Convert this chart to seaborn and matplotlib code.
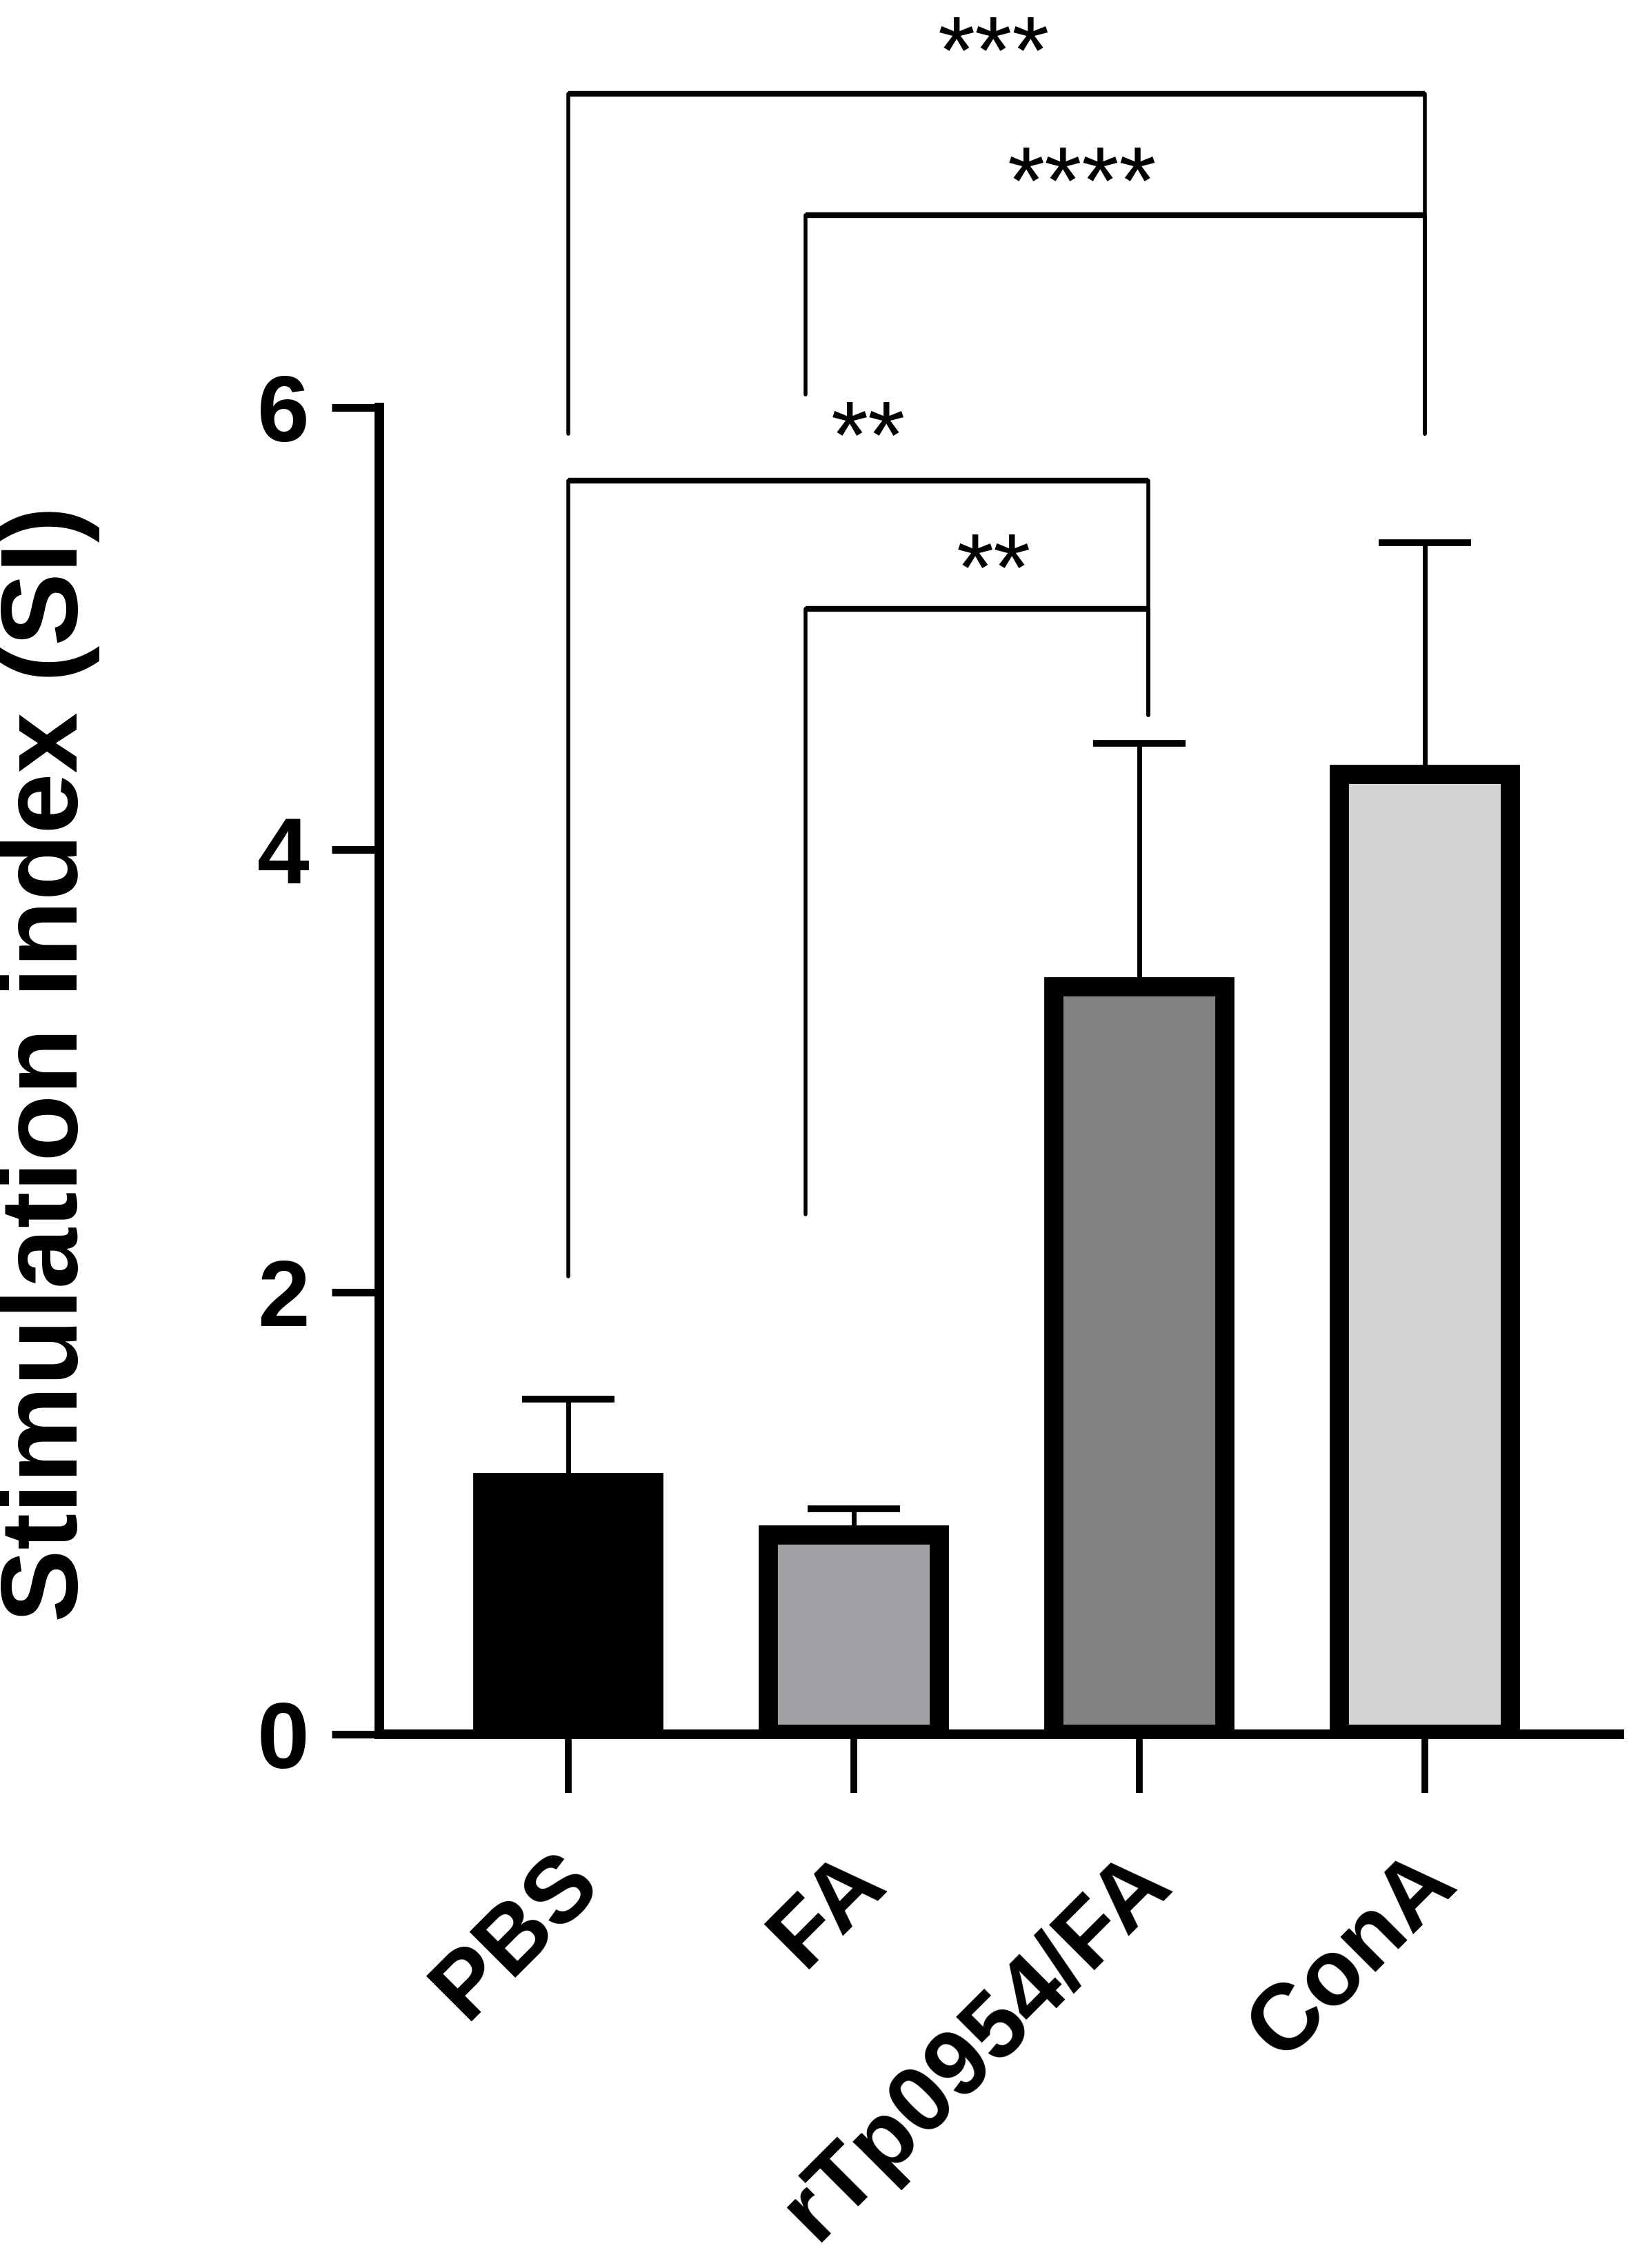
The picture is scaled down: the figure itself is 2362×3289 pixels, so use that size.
import numpy as np
import seaborn as sns
import matplotlib.pyplot as plt
from matplotlib.transforms import ScaledTranslation

# data
groups = ["PBS", "FA", "rTp0954/FA", "ConA"]
si_mean = [1.14, 0.90, 3.38, 4.34]
si_err = [0.375, 0.12, 1.10, 1.05]
bar_colors = ["#000000", "#a2a1a6", "#828282", "#d3d3d3"]

# significance brackets: left x, right x, bar height, left leg end, right leg end, label
brackets = [
    (0.0, 3.0, 7.42, 5.88, 5.88, "***"),
    (0.83, 3.0, 6.87, 6.06, 5.88, "****"),
    (0.0, 2.03, 5.67, 2.07, 4.61, "**"),
    (0.83, 2.03, 5.09, 2.35, 4.61, "**"),
]
# where the star labels sit (x, baseline y)
star_pos = [(1.49, 7.47), (1.80, 6.88), (1.05, 5.73), (1.49, 5.13)]

sns.set_style("ticks", {"axes.edgecolor": "black", "text.color": "black",
                        "xtick.color": "black", "ytick.color": "black"})
plt.rcParams["font.family"] = ["Liberation Sans", "DejaVu Sans"]

fig = plt.figure(figsize=(23.62, 32.89), dpi=100)
ax = fig.add_axes([0.2329, 0.2353, 0.7612, 0.7647])

sns.barplot(x=groups, y=si_mean, hue=groups, palette=bar_colors, legend=False,
            width=0.6, edgecolor="black", linewidth=20, saturation=1, ax=ax)

ax.errorbar(x=np.arange(len(groups)), y=si_mean,
            yerr=[np.zeros(len(groups)), si_err], fmt="none",
            ecolor="black", elinewidth=5, capsize=48, capthick=7, zorder=3)

for (x1, x2, y, b1, b2, lab), (tx, ty) in zip(brackets, star_pos):
    ax.plot([x1, x2], [y, y], color="black", lw=6, clip_on=False,
            solid_capstyle="butt")
    ax.plot([x1, x1], [b1, y], color="black", lw=4, clip_on=False)
    ax.plot([x2, x2], [b2, y], color="black", lw=4, clip_on=False)
    ax.text(tx, ty, lab, ha="center", va="baseline", fontsize=100,
            color="black", clip_on=False)

ax.set_xlim(-0.662, 3.681)
ax.set_ylim(0, 7.843)
ax.set_yticks([0, 2, 4, 6])
ax.set_yticklabels(["0", "2", "4", "6"])

sns.despine(ax=ax)
ax.spines["left"].set_bounds(0, 6)
ax.spines["left"].set_linewidth(10)
ax.spines["bottom"].set_linewidth(10)

ax.tick_params(axis="y", length=50, width=8, pad=23, labelsize=98)
ax.tick_params(axis="x", length=61, width=7, pad=39, labelsize=98)
for t in ax.get_yticklabels() + ax.get_xticklabels():
    t.set_fontweight("bold")
plt.setp(ax.get_xticklabels(), rotation=45, ha="right", va="top",
         rotation_mode="anchor")
# nudge the slanted labels a little left/down like the original
shift = ScaledTranslation(-0.2, -0.1, fig.dpi_scale_trans)
for t in ax.get_xticklabels():
    t.set_transform(t.get_transform() + shift)

ax.set_xlabel("")
ax.set_ylabel("")
fig.text(0.0474, 0.5309, "Stimulation index (SI)", rotation=90,
         rotation_mode="anchor", ha="center", va="baseline",
         fontsize=114, fontweight="bold")

fig.savefig("out.png", dpi=100)
